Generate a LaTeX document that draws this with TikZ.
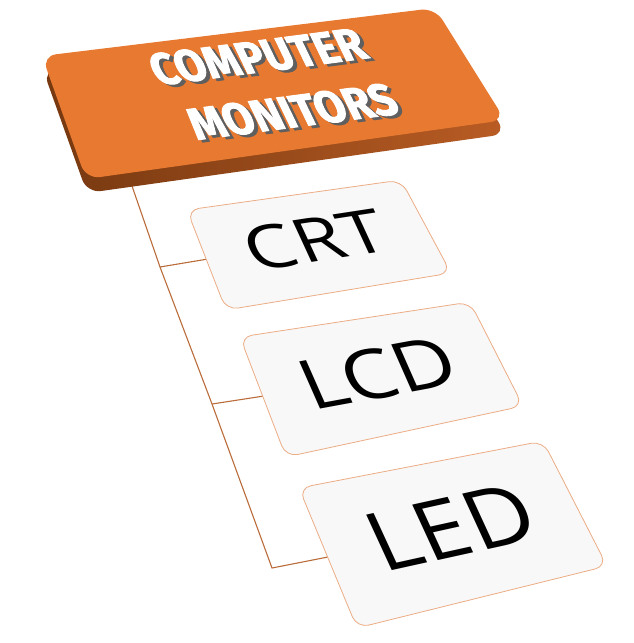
\documentclass[tikz,border=0pt]{standalone}
\usepackage{fontspec}
\newfontfamily\boxfont{Open Sans}
\newfontfamily\titlefont{Fira Sans}[BoldFeatures={FakeBold=2}]
\usetikzlibrary{calc}
\definecolor{orangeface}{RGB}{231,121,48}
\definecolor{sidedark}{RGB}{118,56,16}
\definecolor{sidelight}{RGB}{185,92,36}
\definecolor{linkcol}{RGB}{186,108,58}
\definecolor{boxline}{RGB}{236,172,132}
\definecolor{boxfill}{RGB}{248,248,248}
\definecolor{shadowgray}{RGB}{95,95,95}
\newcommand\shadowed[1]{\makebox[0pt][l]{\kern2.5pt\raisebox{-2.5pt}{\textcolor{shadowgray}{#1}}}#1}
\begin{document}
\begin{tikzpicture}[x=1pt,y=-1pt,
  link/.style={draw=linkcol,line width=1.1pt},
  itembox/.style={draw=boxline,line width=0.8pt,fill=boxfill,rounded corners=12pt},
  itemtext/.style={inner sep=0pt,transform shape,font=\boxfont,text=black},
  titletext/.style={inner sep=0pt,transform shape,text=white,font=\titlefont\bfseries\fontsize{40}{40}\selectfont}]
\useasboundingbox (0,0) rectangle (633,643);

% --- connectors
\coordinate (trTop) at (132,186);
\coordinate (j1) at (160,267);
\coordinate (j2) at (212,404);
\coordinate (trBot) at (272,568);
\coordinate (e1) at (208,259);
\coordinate (e2) at (264,396);
\coordinate (e3) at (328,557);
\draw[link] (trTop) -- (j1) -- (j2) -- (trBot) -- (e3);
\draw[link] (j1) -- (e1);
\draw[link] (j2) -- (e2);

% --- title box
\coordinate (tTL) at (42,56);
\coordinate (tTR) at (435,8);
\coordinate (tBR) at (505,120);
\coordinate (tBL) at (86,179);
\path[left color=sidedark,right color=sidelight,rounded corners=14pt]
  ([shift={(1,14)}]tTL) -- ([shift={(1,14)}]tTR) -- ([shift={(1,14)}]tBR) -- ([shift={(1,14)}]tBL) -- cycle;
\fill[orangeface,rounded corners=14pt] (tTL) -- (tTR) -- (tBR) -- (tBL) -- cycle;

\begin{scope}[shift={(258,58)}]
  \node[titletext,cm={1.066,0.139,-0.522,1.081,(0,0)}] (t1) at (0,0) {\shadowed{COMPUTER}};
\end{scope}
\begin{scope}[shift={(293,113)}]
  \node[titletext,cm={1.066,0.139,-0.522,1.081,(0,0)}] (t2) at (0,0) {\shadowed{MONITORS}};
\end{scope}

% --- CRT box
\coordinate (aTL) at (187,210);
\coordinate (aTR) at (401,180);
\coordinate (aBR) at (451,273);
\coordinate (aBL) at (226,310);
\draw[itembox] (aTL) -- (aTR) -- (aBR) -- (aBL) -- cycle;
\begin{scope}[shift={(315,240)}]
  \node[itemtext,font=\boxfont\fontsize{77}{77}\selectfont,cm={0.9886,0.151,-0.348,0.754,(0,0)}] (crt) at (0,0) {CRT};
\end{scope}

% --- LCD box
\coordinate (bTL) at (240,337);
\coordinate (bTR) at (470,302);
\coordinate (bBR) at (523,406);
\coordinate (bBL) at (286,457);
\draw[itembox] (bTL) -- (bTR) -- (bBR) -- (bBL) -- cycle;
\begin{scope}[shift={(378,373)}]
  \node[itemtext,font=\boxfont\fontsize{83}{83}\selectfont,cm={0.9835,0.181,-0.351,0.796,(0,0)}] (lcd) at (0,0) {LCD};
\end{scope}

% --- LED box
\coordinate (cTL) at (299,488);
\coordinate (cTR) at (543,441);
\coordinate (cBR) at (607,566);
\coordinate (cBL) at (357,628);
\draw[itembox] (cTL) -- (cTR) -- (cBR) -- (cBL) -- cycle;
\begin{scope}[shift={(451,527)}]
  \node[itemtext,font=\boxfont\fontsize{91}{91}\selectfont,cm={0.9765,0.2155,-0.393,0.854,(0,0)}] (led) at (0,0) {LED};
\end{scope}
\end{tikzpicture}
\end{document}
